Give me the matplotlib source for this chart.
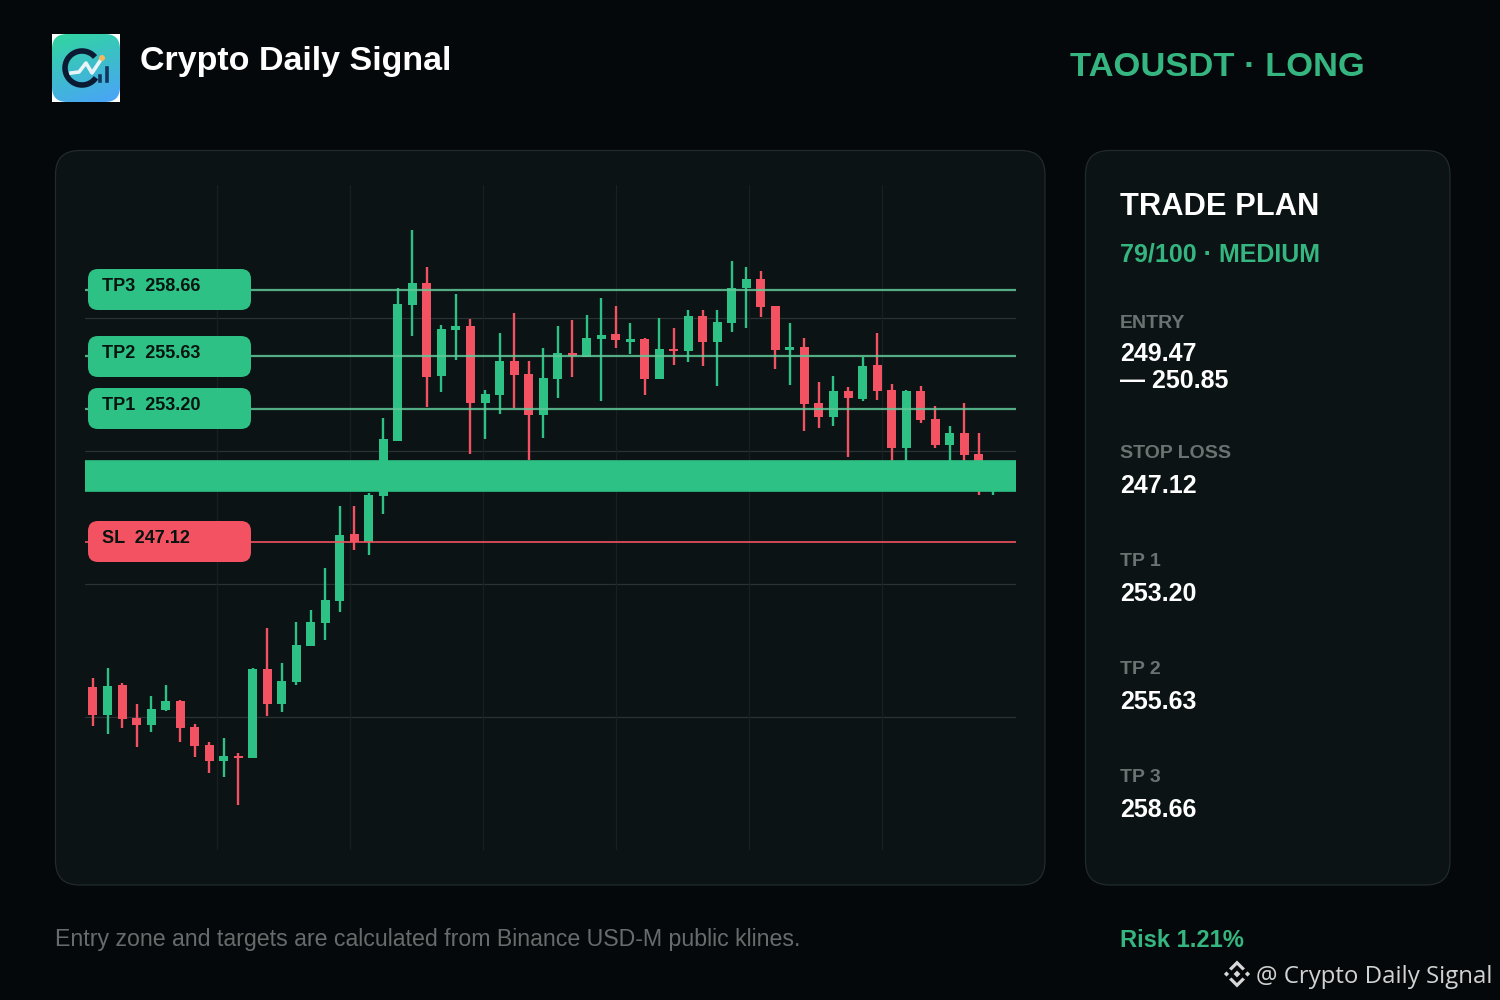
#!/usr/bin/python3

import numpy as np
import matplotlib
matplotlib.use("Agg")
import matplotlib.pyplot as plt
from matplotlib.patches import FancyBboxPatch, Rectangle, Polygon, Arc, Circle

plt.rcParams['font.family'] = ['Liberation Sans', 'DejaVu Sans']

# candles
opens = [240.48,239.20,240.57,239.06,238.74,239.43,239.84,238.65,237.83,237.09,237.32,237.23,241.31,239.70,240.71,242.36,
         243.41,244.42,247.49,247.12,249.22,251.75,257.97,258.98,254.72,256.83,257.01,253.49,253.85,255.41,254.81,252.94,
         254.59,255.78,255.59,256.42,256.65,256.28,256.42,254.59,255.96,255.87,257.47,256.28,257.15,258.75,259.16,257.93,
         255.91,256.05,253.49,252.84,254.04,253.67,255.22,254.08,251.42,254.04,252.75,251.56,252.11,251.15,249.73]
highs = [240.89,241.35,240.66,239.70,240.07,240.57,239.89,238.79,237.96,238.15,237.46,241.35,243.18,241.58,243.46,244.01,
         245.93,248.77,248.77,249.36,252.80,258.75,261.41,259.71,257.06,258.48,257.33,254.08,256.69,257.61,255.41,256.00,
         257.01,257.29,257.52,258.29,257.93,257.15,256.46,257.38,256.92,257.74,257.74,257.74,259.99,259.71,259.53,257.93,
         257.15,256.46,254.45,254.72,254.22,255.59,256.69,254.36,254.08,254.27,253.35,252.43,253.49,252.11,250.78]
lows = [238.70,238.33,238.60,237.73,238.42,239.38,237.96,237.28,236.54,236.36,235.08,237.23,239.15,239.34,240.57,242.36,
        242.63,243.92,246.76,246.53,248.40,251.75,256.55,253.30,253.99,255.45,251.15,251.84,252.98,253.26,250.88,251.88,
        253.72,254.68,255.59,253.58,256.00,255.73,253.85,254.59,255.22,255.36,255.18,254.27,256.74,256.92,257.42,255.04,
        254.31,252.20,252.34,252.43,251.01,253.58,253.62,250.70,250.70,252.57,251.42,250.42,250.42,249.27,249.27]
closes = [239.20,240.53,239.02,238.74,239.47,239.84,238.60,237.78,237.09,237.32,237.23,241.31,239.70,240.76,242.40,243.46,
          244.47,247.44,247.12,249.27,251.84,258.02,258.98,254.68,256.87,257.01,253.49,253.90,255.41,254.77,252.94,254.63,
          255.78,255.64,256.46,256.60,256.37,256.42,254.59,255.96,255.87,257.47,256.28,257.20,258.75,259.16,257.88,255.91,
          256.05,253.44,252.84,254.04,253.72,255.18,254.04,251.42,254.04,252.71,251.56,252.11,251.10,250.19,250.65]

entry_low = 249.47
entry_high = 250.85
stop_loss = 247.12
tp_values = [253.20, 255.63, 258.66]
tp_names = ["TP1", "TP2", "TP3"]
grid_prices = [257.38, 251.29, 245.20, 239.11]
grid_times = [8.54, 17.70, 26.86, 36.02, 45.18, 54.34]

plan_labels = ["ENTRY", "STOP LOSS", "TP 1", "TP 2", "TP 3"]
plan_values = ["249.47\n— 250.85", "247.12", "253.20", "255.63", "258.66"]

BG = "#05080a"
PANEL = "#0c1314"
EDGE = "#212a2c"
GREEN = "#2dc185"
RED = "#f25261"
LINE_GREEN = "#62c899"
TITLE_GREEN = "#35b680"

fig = plt.figure(figsize=(15, 10), dpi=100, facecolor=BG)

# page axes in pixels, for panels and text
page = fig.add_axes([0, 0, 1, 1], zorder=0)
page.set_xlim(0, 1500)
page.set_ylim(1000, 0)
page.axis("off")

# overlay for things on top of the chart
over = fig.add_axes([0, 0, 1, 1], zorder=2)
over.set_xlim(0, 1500)
over.set_ylim(1000, 0)
over.axis("off")
over.patch.set_alpha(0)

def panel(x0, y0, x1, y1):
    page.add_patch(FancyBboxPatch((x0 + 24, y0 + 24), x1 - x0 - 48, y1 - y0 - 48,
                                  boxstyle="round,pad=24,rounding_size=24",
                                  fc=PANEL, ec=EDGE, lw=0.9))

panel(55.5, 150.5, 1045, 885)
panel(1085.5, 150.5, 1450, 885)

# chart axes
ax = fig.add_axes([85/1500, 1 - 850/1000, (1016-85)/1500, (850-185)/1000], zorder=1)
ax.patch.set_alpha(0)
ax.set_xlim(-0.55, 63.57)
ax.set_ylim(233.02, 263.47)
ax.axis("off")

for p in grid_prices:
    ax.axhline(p, color="#2a3233", lw=0.9, zorder=1)
for t in grid_times:
    ax.axvline(t, color="#182022", lw=0.9, zorder=1)

for i in range(len(opens)):
    col = GREEN if closes[i] >= opens[i] else RED
    ax.plot([i, i], [lows[i], highs[i]], color=col, lw=1.7, solid_capstyle="butt", zorder=2)
    bottom = min(opens[i], closes[i])
    ax.add_patch(Rectangle((i - 0.31, bottom), 0.62, abs(closes[i] - opens[i]), fc=col, ec="none", zorder=3))

ax.axhspan(entry_low, entry_high, fc=GREEN, ec=GREEN, lw=1.2, zorder=4)
for p in tp_values:
    ax.axhline(p, color=LINE_GREEN, lw=1.6, alpha=0.85, zorder=5)
ax.axhline(stop_loss, color=RED, lw=1.4, alpha=0.85, zorder=5)

# price label pills
pill_y = [408.5, 356.5, 289.5]
def pill(yc, col, txt):
    over.add_patch(FancyBboxPatch((88 + 10, yc - 20.5 + 10), 163 - 20, 41 - 20,
                                  boxstyle="round,pad=10,rounding_size=10", fc=col, ec="none"))
    over.text(102, yc - 3, txt, color="#07140f", fontsize=13, fontweight="bold", va="center", ha="left")

for name, val, yc in zip(tp_names, tp_values, pill_y):
    pill(yc, GREEN, "%s  %.2f" % (name, val))
pill(541.5, RED, "SL  %.2f" % stop_loss)

# header
page.text(140, 61.5, "Crypto Daily Signal", color="white", fontsize=24.5, fontweight="bold", va="center")
page.text(1070, 67.5, "TAOUSDT · LONG", color=TITLE_GREEN, fontsize=24.8, fontweight="bold", va="center")

# logo
page.add_patch(Rectangle((52, 34), 68, 68, fc="white", ec="none"))
clip = FancyBboxPatch((52 + 15, 34 + 15), 38, 38, boxstyle="round,pad=15,rounding_size=15", fc="none", ec="none")
page.add_patch(clip)
gy, gx = np.mgrid[0:1:64j, 0:1:64j]
mix = np.clip(0.25 * gx + 0.75 * gy, 0, 1)[:, :, None]
grad = (1 - mix) * np.array([0.19, 0.84, 0.62]) + mix * np.array([0.29, 0.64, 0.98])
im = page.imshow(grad, extent=(52, 120, 102, 34), aspect="auto", zorder=1)
im.set_clip_path(clip)
page.set_xlim(0, 1500)
page.set_ylim(1000, 0)
page.add_patch(Arc((82, 68), 34, 34, theta1=35, theta2=320, color="#0b1a33", lw=4, zorder=2))
page.plot([71, 79, 86, 92, 102], [73, 72, 63, 73, 58], color="#e8f4f8", lw=2.6, zorder=3)
page.add_patch(Circle((102, 58), 3, fc="#f4b860", ec="none", zorder=4))
page.plot([107, 107], [68, 81], color="#13365f", lw=2.6, zorder=3)
page.plot([99.5, 99.5], [76, 81], color="#13365f", lw=2.6, zorder=3)

# trade plan
page.text(1120, 207, "TRADE PLAN", color="white", fontsize=22.2, fontweight="bold", va="center")
page.text(1120, 254, "79/100 · MEDIUM", color=TITLE_GREEN, fontsize=18, fontweight="bold", va="center")

label_y = [323, 454, 562, 670, 778]
value_y = [354, 486, 594, 702, 810]
for lab, val, ly, vy in zip(plan_labels, plan_values, label_y, value_y):
    page.text(1120, ly, lab, color="#6c7271", fontsize=14, fontweight="bold", va="center")
    parts = val.split("\n")
    for k, part in enumerate(parts):
        page.text(1120, vy + 27 * k, part, color="white", fontsize=18, fontweight="bold", va="center")

# footer
page.text(55, 939.5, "Entry zone and targets are calculated from Binance USD-M public klines.",
          color="#666c6b", fontsize=16.65, va="center")
page.text(1120, 940.5, "Risk 1.21%", color=TITLE_GREEN, fontsize=17.1, fontweight="bold", va="center")

# watermark
page.text(1256, 977, "@ Crypto Daily Signal", color="#d2d2d2", fontsize=17.3, family="Open Sans", va="center")
cx, cy = 1237, 974
for dx, r in [(-10.5, 2.6), (10.5, 2.6), (0, 3.4)]:
    page.add_patch(Polygon([(cx + dx - r, cy), (cx + dx, cy - r), (cx + dx + r, cy), (cx + dx, cy + r)],
                           fc="#d8d8d8", ec="none"))
for sgn in (-1, 1):
    page.add_patch(Polygon([(cx - 8, cy + sgn * 5.5), (cx, cy + sgn * 13.5), (cx + 8, cy + sgn * 5.5),
                            (cx + 5.5, cy + sgn * 3.5), (cx, cy + sgn * 9), (cx - 5.5, cy + sgn * 3.5)],
                           fc="#d8d8d8", ec="none"))

fig.savefig("out.png", dpi=100, facecolor=BG)
